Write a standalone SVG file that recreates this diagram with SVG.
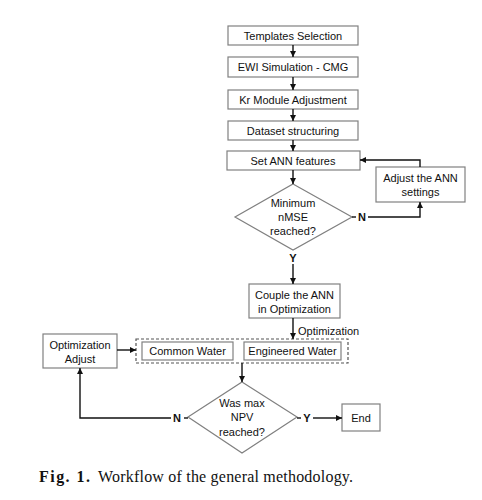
<svg xmlns="http://www.w3.org/2000/svg" width="482" height="500" viewBox="0 0 482 500">
<defs>
<marker id="ah" viewBox="0 0 10 10" refX="10" refY="5" markerWidth="6" markerHeight="6" markerUnits="userSpaceOnUse" orient="auto">
<path d="M0,0 L10,5 L0,10 z" fill="#111"/>
</marker>
<style>
.box{fill:#fff;stroke:#808080;stroke-width:1.2}
.dash{fill:none;stroke:#555;stroke-width:1.2;stroke-dasharray:3,2}
.t{font-family:"Liberation Sans",Arial,sans-serif;font-size:11px;fill:#111;text-anchor:middle}
.lbl{font-family:"Liberation Sans",Arial,sans-serif;font-size:11px;font-weight:bold;fill:#111;text-anchor:middle}
.c{fill:none;stroke:#111;stroke-width:1.4}
.cap{font-family:"Liberation Serif","Times New Roman",serif;font-size:16px;fill:#111}
</style>
</defs>
<rect width="482" height="500" fill="#fff"/>
<g id="n1"><rect class="box" x="228" y="26" width="130" height="19"/><text class="t" x="293" y="39.5">Templates Selection</text></g>
<g id="n2"><rect class="box" x="228" y="57" width="130" height="20"/><text class="t" x="293" y="71">EWI Simulation - CMG</text></g>
<g id="n3"><rect class="box" x="228" y="90" width="130" height="19"/><text class="t" x="293" y="103.5">Kr Module Adjustment</text></g>
<g id="n4"><rect class="box" x="228" y="121" width="130" height="19"/><text class="t" x="293" y="134.5">Dataset structuring</text></g>
<g id="n5"><rect class="box" x="227" y="151" width="133" height="19"/><text class="t" x="293" y="164.5">Set ANN features</text></g>
<g id="d1"><polygon class="box" points="293,184 352,217 293,250 235,217"/><text class="t" x="293" y="207">Minimum</text><text class="t" x="293" y="221">nMSE</text><text class="t" x="293" y="235">reached?</text></g>
<g id="n6"><rect class="box" x="376" y="167" width="89" height="35"/><text class="t" x="420.5" y="182">Adjust the ANN</text><text class="t" x="420.5" y="196">settings</text></g>
<g id="n7"><rect class="box" x="249" y="284" width="91" height="34"/><text class="t" x="294.5" y="298.5">Couple the ANN</text><text class="t" x="294.5" y="312.5">in Optimization</text></g>
<g id="g1"><rect class="dash" x="136" y="339" width="212" height="24"/></g>
<g id="n8"><rect class="box" x="142" y="342" width="91" height="18"/><text class="t" x="187.5" y="355">Common Water</text></g>
<g id="n9"><rect class="box" x="244" y="342" width="97" height="18"/><text class="t" x="292.5" y="355">Engineered Water</text></g>
<g id="n10"><rect class="box" x="43" y="334" width="74" height="34"/><text class="t" x="80" y="348.5">Optimization</text><text class="t" x="80" y="362.5">Adjust</text></g>
<g id="d2"><polygon class="box" points="242,382 297,417 242,453 188,417"/><text class="t" x="242" y="407">Was max</text><text class="t" x="242" y="421">NPV</text><text class="t" x="242" y="436">reached?</text></g>
<g id="n11"><rect class="box" x="342" y="404" width="38" height="27"/><text class="t" x="361" y="421.5">End</text></g>
<g id="connectors">
<line class="c" x1="293" y1="45" x2="293" y2="57" marker-end="url(#ah)"/>
<line class="c" x1="293" y1="77" x2="293" y2="90" marker-end="url(#ah)"/>
<line class="c" x1="293" y1="109" x2="293" y2="121" marker-end="url(#ah)"/>
<line class="c" x1="293" y1="140" x2="293" y2="151" marker-end="url(#ah)"/>
<line class="c" x1="293" y1="170" x2="293" y2="184" marker-end="url(#ah)"/>
<polyline class="c" points="368,217 420,217 420,202" marker-end="url(#ah)"/>
<polyline class="c" points="420,167 420,160 360,160" marker-end="url(#ah)"/>
<line class="c" x1="293" y1="264" x2="293" y2="284" marker-end="url(#ah)"/>
<line class="c" x1="293" y1="318" x2="293" y2="339" marker-end="url(#ah)"/>
<line class="c" x1="117" y1="350" x2="136" y2="350" marker-end="url(#ah)"/>
<line class="c" x1="242" y1="363" x2="242" y2="382" marker-end="url(#ah)"/>
<polyline class="c" points="171,418 80,418 80,368" marker-end="url(#ah)"/>
<line class="c" x1="313" y1="418" x2="342" y2="418" marker-end="url(#ah)"/>
<line class="c" x1="352" y1="217" x2="356" y2="217"/>
<line class="c" x1="184" y1="418" x2="188" y2="418"/>
<line class="c" x1="297" y1="418" x2="301" y2="418"/>
<text class="lbl" x="362" y="221">N</text>
<text class="lbl" x="293" y="262">Y</text>
<text class="lbl" x="177" y="422">N</text>
<text class="lbl" x="307" y="422">Y</text>
<text class="t" x="298" y="335" style="text-anchor:start">Optimization</text>
</g>
<text class="cap" x="39" y="482" font-weight="bold" textLength="51" lengthAdjust="spacing">Fig. 1.</text>
<text class="cap" x="98" y="482" textLength="255" lengthAdjust="spacing">Workflow of the general methodology.</text>
</svg>
